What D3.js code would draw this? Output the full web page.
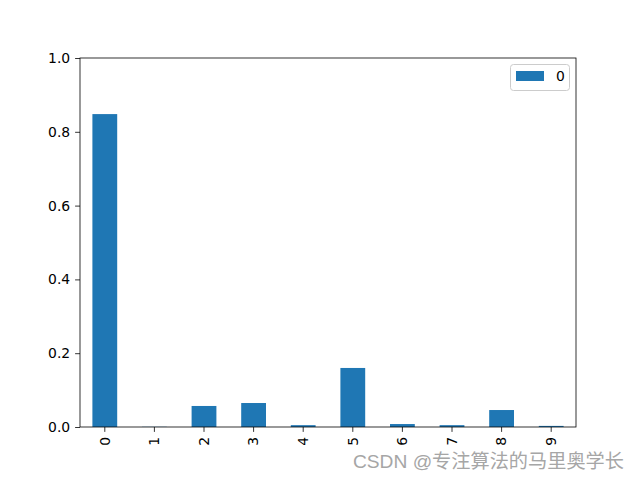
<!DOCTYPE html>
<html><head><meta charset="utf-8">
<script src="https://cdn.jsdelivr.net/npm/d3@7"></script>
<style>body{margin:0;background:#fff}svg{display:block}</style>
</head><body>
<script>
const categories = ["0","1","2","3","4","5","6","7","8","9"];
const values = [0.848, 0.0005, 0.057, 0.065, 0.005, 0.16, 0.008, 0.005, 0.046, 0.003];
const yTicks = [0, 0.2, 0.4, 0.6, 0.8, 1.0];
const seriesName = "0";
const watermark = "CSDN @专注算法的马里奥学长";

const W = 640, H = 480;
const m = {left: 80, right: 64, top: 58, bottom: 53};
const svg = d3.select("body").append("svg").attr("width", W).attr("height", H);
const font = "DejaVu Sans, sans-serif";

const x = d3.scaleBand().domain(categories).range([m.left, W - m.right]).paddingInner(0.5).paddingOuter(0.25);
const y = d3.scaleLinear().domain([0, 1]).range([H - m.bottom, m.top]);

svg.append("g").selectAll("rect").data(values).join("rect")
  .attr("x", (d, i) => x(categories[i]))
  .attr("width", x.bandwidth())
  .attr("y", d => y(d))
  .attr("height", d => y(0) - y(d))
  .attr("fill", "#1f77b4");

const yAxis = svg.append("g").attr("transform", `translate(${m.left},0)`)
  .call(d3.axisLeft(y).tickValues(yTicks).tickFormat(d3.format(".1f")).tickSize(4.9).tickPadding(4.9));
const xAxis = svg.append("g").attr("transform", `translate(0,${H - m.bottom})`)
  .call(d3.axisBottom(x).tickSize(4.9).tickPadding(4.9));
[yAxis, xAxis].forEach(g => {
  g.select(".domain").remove();
  g.selectAll("text").attr("font-family", font).attr("font-size", 13.9).attr("fill", "#000");
  g.selectAll("line").attr("stroke", "#000").attr("stroke-width", 0.8);
});
xAxis.selectAll("text")
  .attr("transform", "rotate(-90)")
  .attr("text-anchor", "end")
  .attr("dy", "0.35em")
  .attr("x", -9.8).attr("y", 0);

svg.append("rect").attr("x", m.left).attr("y", m.top)
  .attr("width", W - m.left - m.right).attr("height", H - m.top - m.bottom)
  .attr("fill", "none").attr("stroke", "#000").attr("stroke-width", 0.8);

// legend
const lg = svg.append("g");
lg.append("rect").attr("x", 510.5).attr("y", 64.5).attr("width", 59).attr("height", 26).attr("rx", 3)
  .attr("fill", "#fff").attr("fill-opacity", 0.8).attr("stroke", "#ccc").attr("stroke-width", 1);
lg.append("rect").attr("x", 516).attr("y", 71).attr("width", 28).attr("height", 10).attr("fill", "#1f77b4");
lg.append("text").attr("x", 556).attr("y", 81).attr("font-family", font).attr("font-size", 13.9).text(seriesName);

svg.append("text").attr("x", 624).attr("y", 468).attr("text-anchor", "end")
  .attr("font-family", "Liberation Sans, Noto Sans CJK SC, sans-serif").attr("font-size", 19.2).attr("fill", "#a6a6a6")
  .text(watermark);
</script>
</body></html>
